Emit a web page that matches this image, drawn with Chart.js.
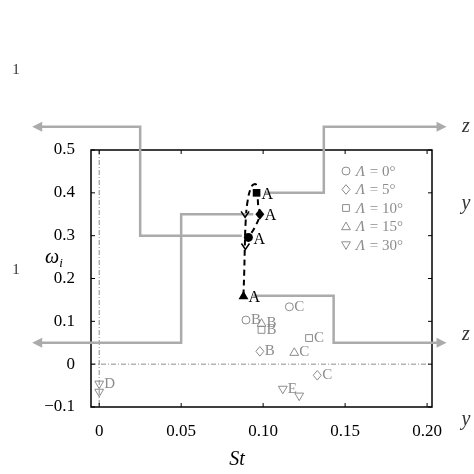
<!DOCTYPE html>
<html><head><meta charset="utf-8">
<script src="https://cdn.jsdelivr.net/npm/chart.js@4"></script>
<style>html,body{margin:0;padding:0;background:#fff}#wrap{width:474px;height:474px}</style>
</head><body><div id="wrap"><canvas id="c" width="474" height="474"></canvas></div>
<script>
const xTicks = [0, 0.05, 0.10, 0.15, 0.20];
const xTickLabels = ['0', '0.05', '0.10', '0.15', '0.20'];
const yTicks = [-0.1, 0, 0.1, 0.2, 0.3, 0.4, 0.5];
const yTickLabels = ['\u22120.1', '0', '0.1', '0.2', '0.3', '0.4', '0.5'];

// black (A) points
const blackPts = [
  { x: 0.096, y: 0.40, s: 'rect', l: 'A' },
  { x: 0.098, y: 0.35, s: 'rectRot', l: 'A' },
  { x: 0.091, y: 0.296, s: 'circle', l: 'A' },
  { x: 0.088, y: 0.16, s: 'triangle', l: 'A' }
];
// grey points
const greyPts = [
  { x: 0.116, y: 0.134, s: 'circle', l: 'C' },
  { x: 0.0895, y: 0.103, s: 'circle', l: 'B' },
  { x: 0.099, y: 0.096, s: 'triangle', l: 'B' },
  { x: 0.099, y: 0.080, s: 'rect', l: 'B' },
  { x: 0.098, y: 0.030, s: 'rectRot', l: 'B' },
  { x: 0.128, y: 0.061, s: 'rect', l: 'C' },
  { x: 0.119, y: 0.028, s: 'triangle', l: 'C' },
  { x: 0.133, y: -0.026, s: 'rectRot', l: 'C' },
  { x: 0.112, y: -0.059, s: 'inv', l: 'E' },
  { x: 0.122, y: -0.075, s: 'inv', l: '' },
  { x: 0.0, y: -0.047, s: 'inv', l: 'D' },
  { x: 0.0, y: -0.066, s: 'inv', l: '' }
];
// dashed path
const pathX = [0.088, 0.0885, 0.0888, 0.0893, 0.0905, 0.093, 0.0955, 0.0965, 0.097, 0.098, 0.095, 0.091];
const pathY = [0.16, 0.22, 0.27, 0.33, 0.38, 0.415, 0.42, 0.40, 0.37, 0.35, 0.32, 0.296];
// connectors (data coords; x outside axis range reaches margins), arrow at last point
const connectors = [
  [[0.087, 0.30], [0.025, 0.30], [0.025, 0.554], [-0.036, 0.554]],
  [[0.094, 0.35], [0.05, 0.35], [0.05, 0.05], [-0.036, 0.05]],
  [[0.101, 0.40], [0.137, 0.40], [0.137, 0.554], [0.207, 0.554]],
  [[0.094, 0.16], [0.143, 0.16], [0.143, 0.05], [0.207, 0.05]]
];
const legendShapes = ['circle', 'rectRot', 'rect', 'triangle', 'inv'];
const legendLabels = ['0°', '5°', '10°', '15°', '30°'];

const GREY = '#8c8c8c', LGREY = '#ababab';
const serif = '"Liberation Serif", "DejaVu Serif", serif';

function shape(ctx, s, x, y, r, fill, stroke) {
  ctx.save();
  ctx.beginPath();
  if (s === 'circle') ctx.arc(x, y, r, 0, Math.PI * 2);
  else if (s === 'rect') ctx.rect(x - r * 0.85, y - r * 0.85, r * 1.7, r * 1.7);
  else if (s === 'rectRot') { ctx.moveTo(x, y - r * 1.2); ctx.lineTo(x + r, y); ctx.lineTo(x, y + r * 1.2); ctx.lineTo(x - r, y); ctx.closePath(); }
  else if (s === 'triangle') { ctx.moveTo(x, y - r * 1.1); ctx.lineTo(x + r * 1.1, y + r * 0.8); ctx.lineTo(x - r * 1.1, y + r * 0.8); ctx.closePath(); }
  else { ctx.moveTo(x, y + r * 1.1); ctx.lineTo(x + r * 1.1, y - r * 0.8); ctx.lineTo(x - r * 1.1, y - r * 0.8); ctx.closePath(); }
  if (fill) { ctx.fillStyle = fill; ctx.fill(); }
  if (stroke) { ctx.strokeStyle = stroke; ctx.lineWidth = 1; ctx.stroke(); }
  ctx.restore();
}

const deco = {
  id: 'deco',
  beforeDatasetsDraw(chart) {
    const { ctx, chartArea: a, scales: { x, y } } = chart;
    ctx.save();
    ctx.strokeStyle = GREY; ctx.lineWidth = 1; ctx.setLineDash([5, 2, 1, 2]);
    ctx.beginPath();
    ctx.moveTo(a.left, y.getPixelForValue(0)); ctx.lineTo(a.right, y.getPixelForValue(0));
    ctx.moveTo(x.getPixelForValue(0), a.top); ctx.lineTo(x.getPixelForValue(0), a.bottom);
    ctx.stroke();
    ctx.restore();
  },
  afterDraw(chart) {
    const { ctx, chartArea: a, scales: { x, y } } = chart;
    ctx.save();
    // box + inner ticks
    ctx.strokeStyle = '#000'; ctx.lineWidth = 1.5;
    ctx.strokeRect(a.left, a.top, a.right - a.left, a.bottom - a.top);
    ctx.lineWidth = 1;
    ctx.beginPath();
    xTicks.forEach(v => { const px = x.getPixelForValue(v); ctx.moveTo(px, a.bottom); ctx.lineTo(px, a.bottom - 4); ctx.moveTo(px, a.top); ctx.lineTo(px, a.top + 4); });
    yTicks.forEach(v => { const py = y.getPixelForValue(v); ctx.moveTo(a.left, py); ctx.lineTo(a.left + 4, py); ctx.moveTo(a.right, py); ctx.lineTo(a.right - 4, py); });
    ctx.stroke();
    // grey points
    ctx.font = '15px ' + serif; ctx.textBaseline = 'middle';
    greyPts.forEach(p => {
      const px = x.getPixelForValue(p.x), py = y.getPixelForValue(p.y);
      shape(ctx, p.s, px, py, 4, null, GREY);
      ctx.fillStyle = GREY; ctx.fillText(p.l, px + 5, py);
    });
    // connectors
    ctx.strokeStyle = LGREY; ctx.lineWidth = 2.5;
    connectors.forEach(c => {
      ctx.beginPath();
      c.forEach((p, i) => { const px = x.getPixelForValue(p[0]), py = y.getPixelForValue(p[1]); i ? ctx.lineTo(px, py) : ctx.moveTo(px, py); });
      ctx.stroke();
      const e = c[c.length - 1], px = x.getPixelForValue(e[0]), py = y.getPixelForValue(e[1]);
      const dir = e[0] < 0 ? -1 : 1;
      ctx.fillStyle = LGREY; ctx.beginPath();
      ctx.moveTo(px + dir * 8, py); ctx.lineTo(px - dir * 2, py - 5); ctx.lineTo(px - dir * 2, py + 5); ctx.closePath(); ctx.fill();
    });
    // black points
    ctx.font = '16px ' + serif;
    blackPts.forEach(p => {
      const px = x.getPixelForValue(p.x), py = y.getPixelForValue(p.y);
      shape(ctx, p.s, px, py, 4.5, '#000', null);
      ctx.fillStyle = '#000'; ctx.fillText(p.l, px + 5, py + 2);
    });
    // arrows on dashed path
    [[0.089, 0.345], [0.0892, 0.27]].forEach(p => {
      const px = x.getPixelForValue(p[0]), py = y.getPixelForValue(p[1]);
      ctx.strokeStyle = '#000'; ctx.lineWidth = 1.5; ctx.beginPath();
      ctx.moveTo(px - 4, py - 5); ctx.lineTo(px, py + 1); ctx.lineTo(px + 4, py - 5); ctx.stroke();
    });
    // legend
    ctx.fillStyle = '#fff'; ctx.fillRect(336, 160, 91, 97);
    ctx.font = '15px ' + serif;
    legendShapes.forEach((s, i) => {
      const ly = 171 + i * 18.5;
      shape(ctx, s, 346, ly, 4, null, GREY);
      ctx.fillStyle = GREY;
      ctx.font = 'italic 15px ' + serif; ctx.fillText('Λ', 356, ly + 1);
      ctx.font = '15px ' + serif; ctx.fillText(' = ' + legendLabels[i], 366, ly + 1);
    });
    // axis titles and margin text
    ctx.fillStyle = '#000'; ctx.font = 'italic 20px ' + serif; ctx.textAlign = 'center';
    ctx.fillText('St', 237, 460);
    ctx.fillText('ω', 52, 258); ctx.font = 'italic 13px ' + serif; ctx.fillText('i', 61, 264);
    ctx.font = 'italic 20px ' + serif; ctx.fillStyle = '#333';
    ctx.fillText('z', 466, 127); ctx.fillText('z', 466, 335);
    ctx.fillText('y', 466, 204); ctx.fillText('y', 466, 420);
    ctx.font = '15px ' + serif; ctx.fillText('1', 16, 70); ctx.fillText('1', 16, 270);
    ctx.restore();
  }
};

new Chart(document.getElementById('c'), {
  type: 'scatter',
  data: {
    datasets: [{
      data: pathX.map((v, i) => ({ x: v, y: pathY[i] })),
      showLine: true, tension: 0.4, borderColor: '#000', borderWidth: 2,
      borderDash: [6, 4], pointRadius: 0
    }]
  },
  options: {
    responsive: false, animation: false,
    layout: { padding: { left: 0, right: 42, top: 150, bottom: 0 } },
    plugins: { legend: { display: false }, tooltip: { enabled: false } },
    scales: {
      x: {
        type: 'linear', min: -0.005, max: 0.203,
        afterBuildTicks: s => { s.ticks = xTicks.map(v => ({ value: v })); },
        afterFit: s => { s.height = 67; },
        grid: { display: false }, border: { display: false },
        ticks: { color: '#000', font: { family: serif, size: 17 }, padding: 6, maxRotation: 0,
          callback: (v) => xTickLabels[xTicks.findIndex(t => Math.abs(t - v) < 1e-9)] }
      },
      y: {
        min: -0.1, max: 0.5,
        afterBuildTicks: s => { s.ticks = yTicks.map(v => ({ value: v })); },
        afterFit: s => { s.width = 91; },
        grid: { display: false }, border: { display: false },
        ticks: { color: '#000', font: { family: serif, size: 17 }, padding: 8,
          callback: (v) => yTickLabels[yTicks.findIndex(t => Math.abs(t - v) < 1e-9)] }
      }
    }
  },
  plugins: [deco]
});
</script></body></html>
